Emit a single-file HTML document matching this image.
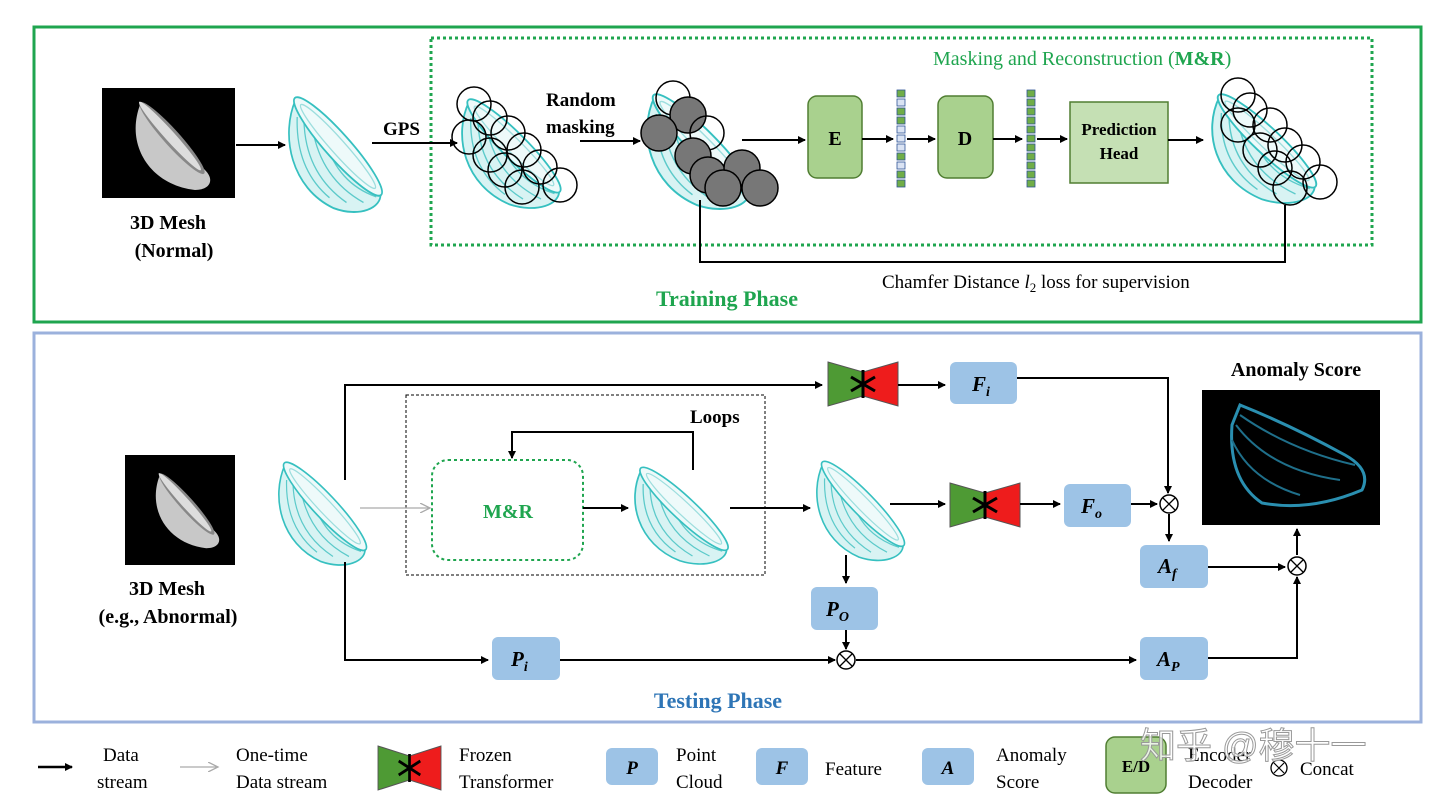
<!DOCTYPE html>
<html><head><meta charset="utf-8"><style>
html,body{margin:0;padding:0;background:#fff;}
svg{display:block;font-family:"Liberation Serif",serif;}
</style></head><body>
<svg width="1440" height="803" viewBox="0 0 1440 803" xmlns="http://www.w3.org/2000/svg">
<defs>
<marker id="ar" markerWidth="8" markerHeight="8" refX="7" refY="4" orient="auto" markerUnits="userSpaceOnUse"><path d="M0,0 L8,4 L0,8 Z" fill="#000"/></marker>
<marker id="ag" markerWidth="12" markerHeight="10" refX="10" refY="5" orient="auto" markerUnits="userSpaceOnUse"><path d="M0,0 L10,5 L0,10" fill="none" stroke="#aaa" stroke-width="1.3"/></marker>
<g id="bowl">
<path d="M10,2 C-8,40 5,95 55,116 C85,126 112,116 110,100 Z" fill="#d8f3f3" stroke="#36c0c0" stroke-width="2"/>
<path d="M12,20 Q10,75 50,105 M20,25 Q22,80 70,110 M30,32 Q40,85 90,110 M45,45 Q60,90 105,104" fill="none" stroke="#5ccaca" stroke-width="1.5"/>
<ellipse cx="60" cy="51" rx="72" ry="14" transform="rotate(45 60 51)" fill="#eefafa" stroke="#36c0c0" stroke-width="2"/>
<ellipse cx="60" cy="51" rx="62" ry="8" transform="rotate(45 60 51)" fill="none" stroke="#9ddede" stroke-width="1.5"/>
</g>
<g id="frz">
<path d="M0,0 L35,10 L35,34 L0,44 Z" fill="#4e9a34" stroke="#555" stroke-width="1"/>
<path d="M70,0 L35,10 L35,34 L70,44 Z" fill="#ee1c1c" stroke="#555" stroke-width="1"/>
<g stroke="#000" stroke-width="3"><line x1="35" y1="8" x2="35" y2="36"/><line x1="23" y1="15" x2="47" y2="29"/><line x1="23" y1="29" x2="47" y2="15"/></g>
</g>
<g id="mesh">
<path d="M-30,-40 C-45,0 -20,40 25,45 C40,45 45,35 35,25 Z" fill="#c8c8c8"/>
<ellipse cx="2" cy="-7" rx="48" ry="8" transform="rotate(48 2 -7)" fill="#888"/>
<ellipse cx="0" cy="-9" rx="46" ry="5" transform="rotate(48 0 -9)" fill="#ddd"/>
</g>
</defs>

<rect x="34" y="27" width="1387" height="295" fill="none" stroke="#1fa54f" stroke-width="3"/>
<rect x="431" y="38" width="941" height="207" fill="none" stroke="#1fa54f" stroke-width="3" stroke-dasharray="3,3"/>
<text x="933" y="65" font-size="20" fill="#1fa54f">Masking and Reconstruction (<tspan font-weight="bold">M&amp;R</tspan>)</text>

<rect x="102" y="88" width="133" height="110" fill="#000"/>
<use href="#mesh" transform="translate(170,145)"/>
<text x="168" y="229" font-size="20" font-weight="bold" text-anchor="middle">3D Mesh</text>
<text x="174" y="257" font-size="20" font-weight="bold" text-anchor="middle">(Normal)</text>
<line x1="236" y1="145" x2="285" y2="145" stroke="#000" stroke-width="2" marker-end="url(#ar)"/>
<use href="#bowl" transform="translate(287,98) scale(0.85,0.95)"/>
<text x="383" y="135" font-size="19" font-weight="bold">GPS</text>
<line x1="372" y1="143" x2="457" y2="143" stroke="#000" stroke-width="2" marker-end="url(#ar)"/>
<use href="#bowl" transform="translate(460,100) scale(0.9,0.9)"/>
<g fill="none" stroke="#000" stroke-width="1.5">
<circle cx="474" cy="104" r="17"/><circle cx="490" cy="118" r="17"/><circle cx="469" cy="137" r="17"/><circle cx="508" cy="133" r="17"/><circle cx="490" cy="155" r="17"/><circle cx="524" cy="150" r="17"/><circle cx="505" cy="170" r="17"/><circle cx="540" cy="167" r="17"/><circle cx="522" cy="187" r="17"/><circle cx="560" cy="185" r="17"/></g>
<text x="546" y="106" font-size="19" font-weight="bold">Random</text>
<text x="546" y="133" font-size="19" font-weight="bold">masking</text>
<line x1="580" y1="141" x2="640" y2="141" stroke="#000" stroke-width="2" marker-end="url(#ar)"/>
<use href="#bowl" transform="translate(645,95) scale(0.95,0.95)"/>
<g stroke="#000" stroke-width="1.5"><circle cx="673" cy="98" r="17" fill="none"/><circle cx="688" cy="115" r="18" fill="#777"/><circle cx="659" cy="133" r="18" fill="#777"/><circle cx="707" cy="133" r="17" fill="none"/><circle cx="693" cy="156" r="18" fill="#777"/><circle cx="708" cy="175" r="18" fill="#777"/><circle cx="742" cy="168" r="18" fill="#777"/><circle cx="723" cy="188" r="18" fill="#777"/><circle cx="760" cy="188" r="18" fill="#777"/></g>
<line x1="742" y1="140" x2="805" y2="140" stroke="#000" stroke-width="2" marker-end="url(#ar)"/>
<rect x="808" y="96" width="54" height="82" rx="9" fill="#a9d18e" stroke="#507e32" stroke-width="1.5"/>
<text x="835" y="145" font-size="20" font-weight="bold" text-anchor="middle">E</text>
<line x1="862" y1="139" x2="893" y2="139" stroke="#000" stroke-width="2" marker-end="url(#ar)"/>
<g stroke="#2f5597" stroke-width="0.8">
<rect x="897" y="90" width="8" height="7" fill="#70ad47"/><rect x="897" y="99" width="8" height="7" fill="#dae3f3"/><rect x="897" y="108" width="8" height="7" fill="#70ad47"/><rect x="897" y="117" width="8" height="7" fill="#70ad47"/><rect x="897" y="126" width="8" height="7" fill="#dae3f3"/><rect x="897" y="135" width="8" height="7" fill="#dae3f3"/><rect x="897" y="144" width="8" height="7" fill="#dae3f3"/><rect x="897" y="153" width="8" height="7" fill="#70ad47"/><rect x="897" y="162" width="8" height="7" fill="#dae3f3"/><rect x="897" y="171" width="8" height="7" fill="#70ad47"/><rect x="897" y="180" width="8" height="7" fill="#70ad47"/>
</g>
<line x1="907" y1="139" x2="935" y2="139" stroke="#000" stroke-width="2" marker-end="url(#ar)"/>
<rect x="938" y="96" width="55" height="82" rx="9" fill="#a9d18e" stroke="#507e32" stroke-width="1.5"/>
<text x="965" y="145" font-size="20" font-weight="bold" text-anchor="middle">D</text>
<line x1="993" y1="139" x2="1022" y2="139" stroke="#000" stroke-width="2" marker-end="url(#ar)"/>
<g fill="#70ad47" stroke="#2f5597" stroke-width="0.8">
<rect x="1027" y="90" width="8" height="7"/><rect x="1027" y="99" width="8" height="7"/><rect x="1027" y="108" width="8" height="7"/><rect x="1027" y="117" width="8" height="7"/><rect x="1027" y="126" width="8" height="7"/><rect x="1027" y="135" width="8" height="7"/><rect x="1027" y="144" width="8" height="7"/><rect x="1027" y="153" width="8" height="7"/><rect x="1027" y="162" width="8" height="7"/><rect x="1027" y="171" width="8" height="7"/><rect x="1027" y="180" width="8" height="7"/>
</g>
<line x1="1037" y1="139" x2="1067" y2="139" stroke="#000" stroke-width="2" marker-end="url(#ar)"/>
<rect x="1070" y="102" width="98" height="81" fill="#c5e0b4" stroke="#507e32" stroke-width="1.5"/>
<text x="1119" y="135" font-size="17" font-weight="bold" text-anchor="middle">Prediction</text>
<text x="1119" y="159" font-size="17" font-weight="bold" text-anchor="middle">Head</text>
<line x1="1168" y1="140" x2="1203" y2="140" stroke="#000" stroke-width="2" marker-end="url(#ar)"/>
<use href="#bowl" transform="translate(1210,95) scale(0.95,0.9)"/>
<g fill="none" stroke="#000" stroke-width="1.5">
<circle cx="1238" cy="95" r="17"/><circle cx="1238" cy="125" r="17"/><circle cx="1250" cy="110" r="17"/><circle cx="1270" cy="125" r="17"/><circle cx="1260" cy="150" r="17"/><circle cx="1285" cy="145" r="17"/><circle cx="1275" cy="168" r="17"/><circle cx="1303" cy="162" r="17"/><circle cx="1290" cy="188" r="17"/><circle cx="1320" cy="182" r="17"/></g>
<polyline points="700,200 700,262 1285,262 1285,205" fill="none" stroke="#000" stroke-width="2"/>
<text x="882" y="288" font-size="19">Chamfer Distance <tspan font-style="italic">l</tspan><tspan font-size="13" dy="4">2</tspan><tspan dy="-4"> loss for supervision</tspan></text>
<text x="727" y="306" font-size="22" font-weight="bold" fill="#1fa54f" text-anchor="middle">Training Phase</text>

<rect x="34" y="333" width="1387" height="389" fill="none" stroke="#9bb1dc" stroke-width="3"/>
<rect x="125" y="455" width="110" height="110" fill="#000"/>
<use href="#mesh" transform="translate(185,510) scale(0.85)"/>
<text x="167" y="595" font-size="20" font-weight="bold" text-anchor="middle">3D Mesh</text>
<text x="168" y="623" font-size="20" font-weight="bold" text-anchor="middle">(e.g., Abnormal)</text>
<use href="#bowl" transform="translate(277,463) scale(0.8,0.85)"/>
<polyline points="345,480 345,385 822,385" fill="none" stroke="#000" stroke-width="2" marker-end="url(#ar)"/>
<use href="#frz" transform="translate(828,362)"/>
<line x1="898" y1="385" x2="945" y2="385" stroke="#000" stroke-width="2" marker-end="url(#ar)"/>
<rect x="950" y="362" width="67" height="42" rx="6" fill="#9dc3e6"/>
<text x="972" y="391" font-size="21" font-weight="bold" font-style="italic">F<tspan font-size="14" dy="5">i</tspan></text>
<polyline points="1017,378 1168,378 1168,493" fill="none" stroke="#000" stroke-width="2" marker-end="url(#ar)"/>
<rect x="406" y="395" width="359" height="180" fill="none" stroke="#000" stroke-width="1" stroke-dasharray="3,2"/>
<text x="690" y="423" font-size="19" font-weight="bold">Loops</text>
<line x1="360" y1="508" x2="430" y2="508" stroke="#aaa" stroke-width="1.3" marker-end="url(#ag)"/>
<rect x="432" y="460" width="151" height="100" rx="16" fill="none" stroke="#1fa54f" stroke-width="2" stroke-dasharray="3,3"/>
<text x="508" y="518" font-size="20" font-weight="bold" fill="#1fa54f" text-anchor="middle">M&amp;R</text>
<line x1="583" y1="508" x2="628" y2="508" stroke="#000" stroke-width="2" marker-end="url(#ar)"/>
<use href="#bowl" transform="translate(633,468) scale(0.85,0.8)"/>
<polyline points="693,470 693,432 512,432 512,458" fill="none" stroke="#000" stroke-width="2" marker-end="url(#ar)"/>
<line x1="730" y1="508" x2="810" y2="508" stroke="#000" stroke-width="2" marker-end="url(#ar)"/>
<use href="#bowl" transform="translate(815,462) scale(0.8,0.82)"/>
<line x1="890" y1="504" x2="945" y2="504" stroke="#000" stroke-width="2" marker-end="url(#ar)"/>
<use href="#frz" transform="translate(950,483)"/>
<line x1="1020" y1="504" x2="1060" y2="504" stroke="#000" stroke-width="2" marker-end="url(#ar)"/>
<rect x="1064" y="484" width="67" height="43" rx="6" fill="#9dc3e6"/>
<text x="1081" y="513" font-size="21" font-weight="bold" font-style="italic">F<tspan font-size="14" dy="5">o</tspan></text>
<line x1="1131" y1="504" x2="1157" y2="504" stroke="#000" stroke-width="2" marker-end="url(#ar)"/>
<line x1="1169" y1="514" x2="1169" y2="541" stroke="#000" stroke-width="2" marker-end="url(#ar)"/>
<rect x="1140" y="545" width="68" height="43" rx="6" fill="#9dc3e6"/>
<text x="1158" y="573" font-size="21" font-weight="bold" font-style="italic">A<tspan font-size="14" dy="5">f</tspan></text>
<line x1="1208" y1="567" x2="1285" y2="567" stroke="#000" stroke-width="2" marker-end="url(#ar)"/>
<line x1="1297" y1="555" x2="1297" y2="529" stroke="#000" stroke-width="2" marker-end="url(#ar)"/>
<rect x="1202" y="390" width="178" height="135" fill="#000"/>
<path d="M1232,425 Q1228,480 1262,503 Q1310,512 1362,490 Q1372,470 1345,455 Q1290,425 1240,405 Z" fill="none" stroke="#2a8fb0" stroke-width="3"/>
<path d="M1232,440 Q1250,480 1300,495 M1236,425 Q1270,470 1340,480 M1240,415 Q1290,450 1355,465" fill="none" stroke="#1f6f8a" stroke-width="2"/>
<text x="1296" y="376" font-size="20" font-weight="bold" text-anchor="middle">Anomaly Score</text>
<line x1="846" y1="555" x2="846" y2="583" stroke="#000" stroke-width="2" marker-end="url(#ar)"/>
<rect x="811" y="587" width="67" height="43" rx="6" fill="#9dc3e6"/>
<text x="826" y="616" font-size="21" font-weight="bold" font-style="italic">P<tspan font-size="14" dy="5">O</tspan></text>
<line x1="846" y1="630" x2="846" y2="649" stroke="#000" stroke-width="2" marker-end="url(#ar)"/>
<polyline points="345,562 345,660 488,660" fill="none" stroke="#000" stroke-width="2" marker-end="url(#ar)"/>
<rect x="492" y="637" width="68" height="43" rx="6" fill="#9dc3e6"/>
<text x="511" y="666" font-size="21" font-weight="bold" font-style="italic">P<tspan font-size="14" dy="5">i</tspan></text>
<line x1="560" y1="660" x2="835" y2="660" stroke="#000" stroke-width="2" marker-end="url(#ar)"/>
<line x1="856" y1="660" x2="1136" y2="660" stroke="#000" stroke-width="2" marker-end="url(#ar)"/>
<rect x="1140" y="637" width="68" height="43" rx="6" fill="#9dc3e6"/>
<text x="1157" y="666" font-size="21" font-weight="bold" font-style="italic">A<tspan font-size="14" dy="5">P</tspan></text>
<polyline points="1208,658 1297,658 1297,577" fill="none" stroke="#000" stroke-width="2" marker-end="url(#ar)"/>
<g fill="#fff" stroke="#000" stroke-width="1.5">
<circle cx="1169" cy="504" r="9"/><circle cx="1297" cy="566" r="9"/><circle cx="846" cy="660" r="9"/></g>
<g stroke="#000" stroke-width="1.3">
<path d="M1163,498 L1175,510 M1175,498 L1163,510"/><path d="M1291,560 L1303,572 M1303,560 L1291,572"/><path d="M840,654 L852,666 M852,654 L840,666"/></g>
<text x="718" y="708" font-size="22" font-weight="bold" fill="#2e75b6" text-anchor="middle">Testing Phase</text>

<g font-size="19">
<line x1="38" y1="767" x2="72" y2="767" stroke="#000" stroke-width="2.5" marker-end="url(#ar)"/>
<text x="103" y="761">Data</text><text x="97" y="788">stream</text>
<line x1="180" y1="767" x2="218" y2="767" stroke="#aaa" stroke-width="1.3" marker-end="url(#ag)"/>
<text x="236" y="761">One-time</text><text x="236" y="788">Data stream</text>
<use href="#frz" transform="translate(378,746) scale(0.9,1)"/>
<text x="459" y="761">Frozen</text><text x="459" y="788">Transformer</text>
<rect x="606" y="748" width="52" height="37" rx="6" fill="#9dc3e6"/>
<text x="632" y="774" font-weight="bold" font-style="italic" text-anchor="middle">P</text>
<text x="676" y="761">Point</text><text x="676" y="788">Cloud</text>
<rect x="756" y="748" width="52" height="37" rx="6" fill="#9dc3e6"/>
<text x="782" y="774" font-weight="bold" font-style="italic" text-anchor="middle">F</text>
<text x="825" y="775">Feature</text>
<rect x="922" y="748" width="52" height="37" rx="6" fill="#9dc3e6"/>
<text x="948" y="774" font-weight="bold" font-style="italic" text-anchor="middle">A</text>
<text x="996" y="761">Anomaly</text><text x="996" y="788">Score</text>
<rect x="1106" y="737" width="60" height="56" rx="9" fill="#a9d18e" stroke="#507e32" stroke-width="1.5"/>
<text x="1136" y="772" font-size="17" font-weight="bold" text-anchor="middle">E/D</text>
<text x="1188" y="761">Encoder</text><text x="1188" y="788">Decoder</text>
<circle cx="1279" cy="768" r="8" fill="#fff" stroke="#000" stroke-width="1.3"/>
<path d="M1274,763 L1284,773 M1284,763 L1274,773" stroke="#000" stroke-width="1.2"/>
<text x="1300" y="775">Concat</text>
</g>
<text x="1140" y="758" font-size="36" fill="#fff" fill-opacity="0.75" stroke="#999" stroke-width="1" font-family="'Liberation Sans','Noto Sans CJK SC',sans-serif">知乎 @穆十一</text>
</svg>
</body></html>
